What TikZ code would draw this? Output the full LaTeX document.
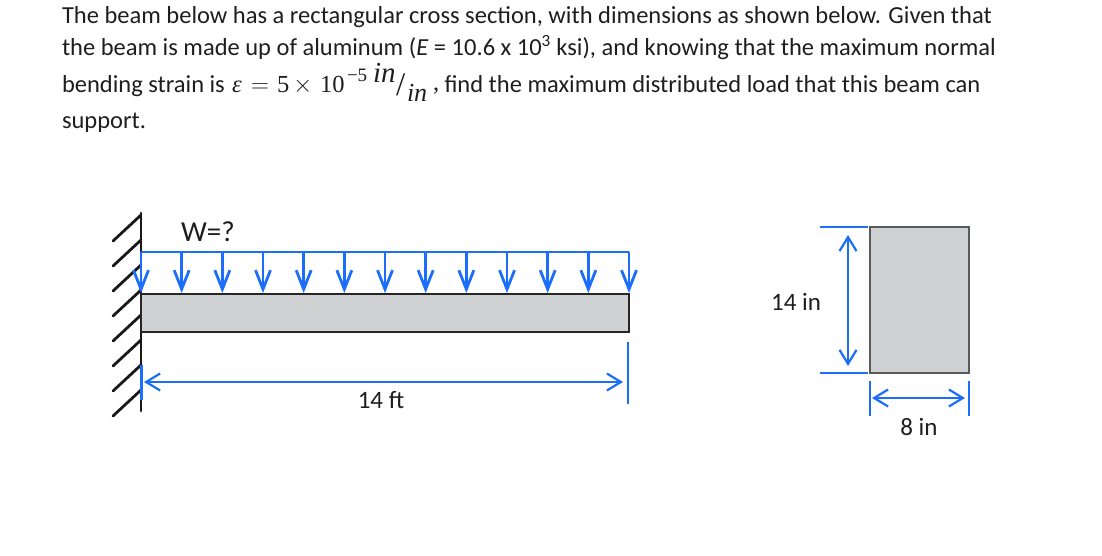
\documentclass[tikz,border=0pt]{standalone}
\usepackage{fontspec}
\setmainfont{Carlito}
\newfontfamily\mfont{Liberation Serif}
\usetikzlibrary{arrows.meta}
\definecolor{dimblue}{RGB}{26,110,250}
\definecolor{beamgray}{RGB}{208,209,211}
\definecolor{inktext}{RGB}{30,30,30}
\tikzset{
  x=1pt,y=-1pt,
  para/.style={anchor=base west,inner sep=0pt,outer sep=0pt,font=\fontsize{24.5}{28}\selectfont,text=inktext},
  mathbig/.style={anchor=base west,inner sep=0pt,outer sep=0pt,font=\fontsize{24.5}{28}\selectfont\mfont,text=inktext},
  mathnum/.style={mathbig,font=\fontsize{29}{32}\selectfont\mfont},
  mathden/.style={mathbig,font=\fontsize{26}{30}\selectfont\mfont},
  mathslash/.style={mathbig,font=\fontsize{33}{36}\selectfont\mfont},
  mathsmall/.style={anchor=base west,inner sep=0pt,outer sep=0pt,font=\fontsize{19}{22}\selectfont\mfont,text=inktext},
  lab/.style={inner sep=0pt,outer sep=0pt,font=\fontsize{25}{28}\selectfont,text=inktext},
  lablarge/.style={lab,font=\fontsize{29}{32}\selectfont},
  load/.style={draw=dimblue,line width=2.8pt,-{Straight Barb[length=19pt,width=15pt,line width=2.8pt]}},
  loadline/.style={draw=dimblue,line width=2.8pt},
  dimline/.style={draw=dimblue,line width=2.2pt},
  dimarrow/.style={draw=dimblue,line width=2.2pt,{Straight Barb[length=14pt,width=17pt]}-{Straight Barb[length=14pt,width=17pt]}},
  body/.style={fill=beamgray,draw=black!85,line width=2pt},
  wall/.style={draw=black!90,line width=2.8pt,line cap=round}
}
\begin{document}
\begin{tikzpicture}
\useasboundingbox (0,0) rectangle (1102,556);
% problem text
\node[para] (l1) at (62,24) {The beam below has a rectangular cross section, with dimensions as shown below. Given that};
\node[para] (l2) at (62,56) {the beam is made up of aluminum (\textit{E} = 10.6 x 10\textsuperscript{3} ksi), and knowing that the maximum normal};
\node[para] (l3a) at (62,93) {bending strain is};
\node[mathbig] (m1) at (232,93) {\textit{ε}};
\node[mathbig] (m2) at (251,93) {$=$};
\node[mathbig] (m3) at (277,93) {5};
\node[mathbig] (m4) at (293,93) {$\times$};
\node[mathbig] (m5) at (320,93) {10};
\node[mathsmall] (m6) at (347,82) {−5};
\node[mathnum] (m7) at (373,83) {\textit{in}};
\node[mathslash] (m8) at (396,96) {/};
\node[mathden] (m9) at (407,102) {\textit{in}};
\node[mathbig] (m10) at (433,91) {,};
\node[para] (l3c) at (444.5,93) {find the maximum distributed load that this beam can};
\node[para] (l4) at (62,129) {support.};
% wall
\coordinate (wt) at (141,213);
\coordinate (wb) at (141,411);
\draw[wall] (wt) -- (wb);
\foreach \i in {0,...,7}{
  \coordinate (ha\i) at (141,215+25*\i);
  \coordinate (hb\i) at (113,241+25*\i);
  \draw[wall] (ha\i) -- (hb\i);
}
% beam
\node[body,minimum width=488pt,minimum height=38pt,inner sep=0pt,outer sep=0pt,anchor=north west] (beam) at (141,294) {};
% load
\coordinate (ls) at (141,252);
\coordinate (le) at (629,252);
\draw[loadline] (ls) -- (le);
\foreach \i in {0,...,12}{
  \coordinate (a\i) at (141+40.667*\i,252);
  \coordinate (b\i) at (141+40.667*\i,293);
  \draw[load] (a\i) -- (b\i);
}
\node[lablarge] (w) at (208,232) {W=?};
% length dimension
\coordinate (t1a) at (141.5,365);
\coordinate (t1b) at (141.5,400);
\coordinate (t2a) at (628,342);
\coordinate (t2b) at (628,404);
\draw[dimline] (t1a) -- (t1b);
\draw[dimline] (t2a) -- (t2b);
\coordinate (d1) at (144,382);
\coordinate (d2) at (623,382);
\draw[dimarrow] (d1) -- (d2);
\node[lab] (ft) at (381,400) {14 ft};
% cross section
\node[body,draw=black!65,minimum width=99pt,minimum height=146pt,inner sep=0pt,outer sep=0pt,anchor=north west] (sec) at (870,227) {};
\coordinate (s1a) at (820,227);
\coordinate (s1b) at (868,227);
\coordinate (s2a) at (820,373);
\coordinate (s2b) at (868,373);
\draw[dimline] (s1a) -- (s1b);
\draw[dimline] (s2a) -- (s2b);
\coordinate (v1) at (848,235);
\coordinate (v2) at (848,366);
\draw[dimarrow] (v1) -- (v2);
\node[lab] (h) at (796,302) {14 in};
\coordinate (s3a) at (870,381);
\coordinate (s3b) at (870,416);
\coordinate (s4a) at (969,381);
\coordinate (s4b) at (969,416);
\draw[dimline] (s3a) -- (s3b);
\draw[dimline] (s4a) -- (s4b);
\coordinate (h1) at (872,398);
\coordinate (h2) at (965,398);
\draw[dimarrow] (h1) -- (h2);
\node[lab] (wd) at (919,427) {8 in};
\end{tikzpicture}
\end{document}
